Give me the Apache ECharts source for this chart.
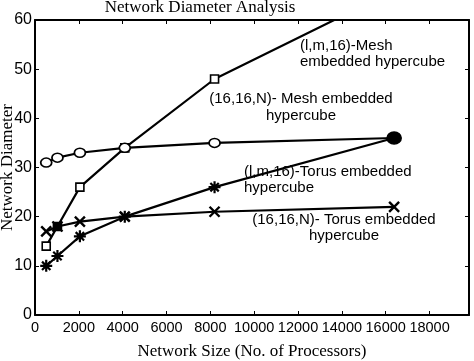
<!DOCTYPE html>
<html>
<head>
<meta charset="utf-8">
<script src="https://cdn.jsdelivr.net/npm/echarts@6/dist/echarts.min.js"></script>
<style>
html,body{margin:0;padding:0;background:#fff;}
#chart{width:474px;height:361px;}
</style>
</head>
<body>
<div id="chart"></div>
<script>
// ---- data ----
const networkSizes = [512, 1024, 2048, 4096, 8192, 16384];
const meshLM16 = [14, 18, 26, 34, 48, 66];      // (l,m,16)-Mesh embedded hypercube
const mesh1616N = [31, 32, 33, 34, 35, 36];     // (16,16,N)- Mesh embedded hypercube
const torusLM16 = [10, 12, 16, 20, 26, 36];     // (l,m,16)-Torus embedded hypercube
const torus1616N = [17, 18, 19, 20, 21, 22];    // (16,16,N)- Torus embedded hypercube
const seriesNames = [
  '(l,m,16)-Mesh embedded hypercube',
  '(16,16,N)- Mesh embedded hypercube',
  '(l,m,16)-Torus embedded hypercube',
  '(16,16,N)- Torus embedded hypercube'
];
const titleText = 'Network Diameter Analysis';
const xAxisTitle = 'Network Size (No. of Processors)';
const yAxisTitle = 'Network Diameter';

const SANS = '"Liberation Sans", Arial, sans-serif';
const SERIF = '"Liberation Serif", "Times New Roman", serif';

function pairs(ys) { return networkSizes.map((x, i) => [x, ys[i]]); }

const ASTERISK = 'path://M0,-6L0,6M-6,0L6,0M-4.2,-4.2L4.2,4.2M-4.2,4.2L4.2,-4.2';
const CROSS = 'path://M-5,-5L5,5M-5,5L5,-5';

const lineStyle = { color: '#000', width: 2.2 };

const chart = echarts.init(document.getElementById('chart'), null, { renderer: 'canvas' });

const commonX = {
  type: 'value', min: 0, max: 19800, interval: 2000,
  axisLine: { show: true, onZero: false, lineStyle: { color: '#000', width: 2 } },
  axisTick: { show: true, inside: true, length: 4, lineStyle: { color: '#000', width: 1 } },
  splitLine: { show: false }
};
const commonY = {
  type: 'value', min: 0, max: 60, interval: 10,
  axisLine: { show: true, onZero: false, lineStyle: { color: '#000', width: 2 } },
  axisTick: { show: true, inside: true, length: 4, lineStyle: { color: '#000', width: 1 } },
  splitLine: { show: false }
};

const option = {
  animation: false,
  backgroundColor: '#fff',
  grid: { left: 35, right: 5, top: 20, bottom: 46, containLabel: false, outerBoundsMode: 'none' },
  xAxis: [
    Object.assign({}, commonX, {
      position: 'bottom',
      name: xAxisTitle, nameLocation: 'middle', nameGap: 28, nameMoveOverlap: false,
      nameTextStyle: { fontFamily: SERIF, fontSize: 17, color: '#000' },
      axisLabel: { show: true, showMaxLabel: false, margin: 5, fontFamily: SANS, fontSize: 14.5, color: '#000',
        formatter: v => String(v) }
    }),
    Object.assign({}, commonX, { position: 'top', axisLabel: { show: false } })
  ],
  yAxis: [
    Object.assign({}, commonY, {
      position: 'left',
      name: yAxisTitle, nameLocation: 'middle', nameGap: 19, nameRotate: 90, nameMoveOverlap: false,
      nameTextStyle: { fontFamily: SERIF, fontSize: 17, color: '#000' },
      axisLabel: { show: true, margin: 3, fontFamily: SANS, fontSize: 16, color: '#000' }
    }),
    Object.assign({}, commonY, { position: 'right', axisLabel: { show: false } })
  ],
  series: [
    {
      name: seriesNames[0], type: 'line', clip: true,
      data: pairs(meshLM16).map((p, i) => i === 1
        ? { value: p, itemStyle: { color: '#000' } } : p),
      symbol: 'rect', symbolSize: 8,
      lineStyle: lineStyle,
      itemStyle: { color: '#fff', borderColor: '#000', borderWidth: 1.6 },
      z: 3
    },
    {
      name: seriesNames[1], type: 'line', clip: true,
      data: pairs(mesh1616N).map((p, i) => i === networkSizes.length - 1
        ? { value: p, symbolSize: [14, 12], itemStyle: { color: '#000' } } : p),
      symbol: 'circle', symbolSize: [11, 9],
      lineStyle: lineStyle,
      itemStyle: { color: '#fff', borderColor: '#000', borderWidth: 1.6 },
      z: 4
    },
    {
      name: seriesNames[2], type: 'line', clip: true,
      data: pairs(torusLM16),
      symbol: ASTERISK, symbolSize: 12,
      lineStyle: lineStyle,
      itemStyle: { color: '#000', borderColor: '#000', borderWidth: 2.2 },
      z: 3
    },
    {
      name: seriesNames[3], type: 'line', clip: true,
      data: pairs(torus1616N),
      symbol: CROSS, symbolSize: 10,
      lineStyle: lineStyle,
      itemStyle: { color: '#000', borderColor: '#000', borderWidth: 2.4 },
      z: 3
    }
  ],
  graphic: [
    { type: 'text', x: 200, y: 8, style: { text: titleText, fill: '#000', font: '17px ' + SERIF, align: 'center', verticalAlign: 'middle' } },
    { type: 'text', x: 300, y: 38, style: { text: '(l,m,16)-Mesh\nembedded hypercube', fill: '#000', font: '15px ' + SANS, lineHeight: 16, align: 'left', verticalAlign: 'top' } },
    { type: 'text', x: 301, y: 90, style: { text: '(16,16,N)- Mesh embedded\nhypercube', fill: '#000', font: '15px ' + SANS, lineHeight: 17, align: 'center', verticalAlign: 'top' } },
    { type: 'text', x: 244, y: 164, style: { text: '(l,m,16)-Torus embedded\nhypercube', fill: '#000', font: '15px ' + SANS, lineHeight: 16, align: 'left', verticalAlign: 'top' } },
    { type: 'text', x: 344, y: 212, style: { text: '(16,16,N)- Torus embedded\nhypercube', fill: '#000', font: '15px ' + SANS, lineHeight: 16, align: 'center', verticalAlign: 'top' } }
  ]
};
chart.setOption(option);
</script>
</body>
</html>
